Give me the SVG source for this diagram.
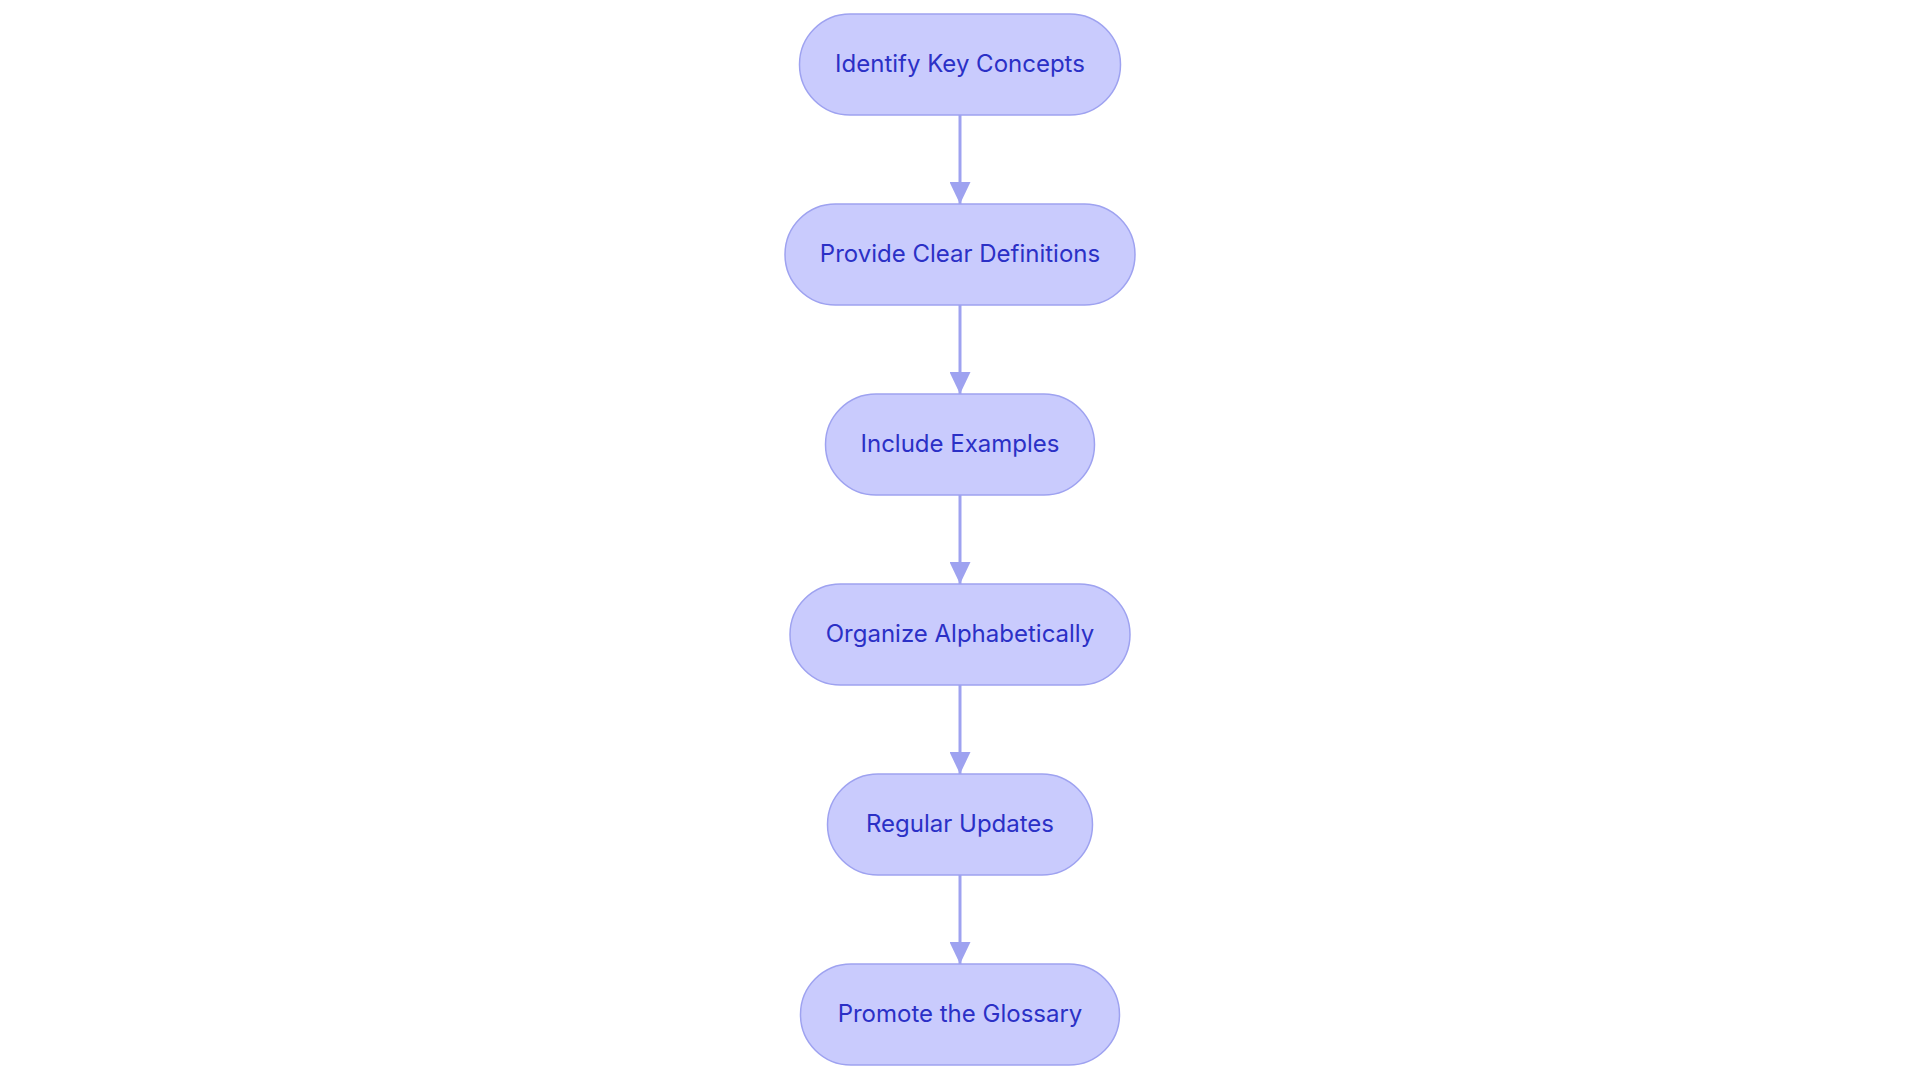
<svg xmlns="http://www.w3.org/2000/svg" width="1920" height="1083" viewBox="0 0 1920 1083">
<defs>
<style>
.node rect{fill:#c9cbfd;stroke:#9ea2f0;stroke-width:1.5}
.node text{font-family:Inter,"Liberation Sans",sans-serif;font-size:24px;fill:#2b30c6;text-anchor:middle}
.edge{stroke:#9ea2f0;stroke-width:3;fill:none}
</style>
<marker id="arr" viewBox="0 0 22 21" refX="22" refY="10.5" markerWidth="22" markerHeight="21" markerUnits="userSpaceOnUse" orient="auto">
<path d="M0,0 L22,10.5 L0,21 Z" fill="#9ea2f0"/>
</marker>
</defs>
<rect width="1920" height="1083" fill="#ffffff"/>
<g id="connectors">
<line class="edge" x1="960" y1="115" x2="960" y2="204" marker-end="url(#arr)"/>
<line class="edge" x1="960" y1="305" x2="960" y2="394" marker-end="url(#arr)"/>
<line class="edge" x1="960" y1="495" x2="960" y2="584" marker-end="url(#arr)"/>
<line class="edge" x1="960" y1="685" x2="960" y2="774" marker-end="url(#arr)"/>
<line class="edge" x1="960" y1="875" x2="960" y2="964" marker-end="url(#arr)"/>
</g>
<g id="n1" class="node"><rect x="799.5" y="14" width="321" height="101" rx="50.5"/><text x="960" y="72">Identify Key Concepts</text></g>
<g id="n2" class="node"><rect x="785" y="204" width="350" height="101" rx="50.5"/><text x="960" y="262">Provide Clear Definitions</text></g>
<g id="n3" class="node"><rect x="825.5" y="394" width="269" height="101" rx="50.5"/><text x="960" y="452">Include Examples</text></g>
<g id="n4" class="node"><rect x="790" y="584" width="340" height="101" rx="50.5"/><text x="960" y="642">Organize Alphabetically</text></g>
<g id="n5" class="node"><rect x="827.5" y="774" width="265" height="101" rx="50.5"/><text x="960" y="832">Regular Updates</text></g>
<g id="n6" class="node"><rect x="800.5" y="964" width="319" height="101" rx="50.5"/><text x="960" y="1022">Promote the Glossary</text></g>
</svg>
